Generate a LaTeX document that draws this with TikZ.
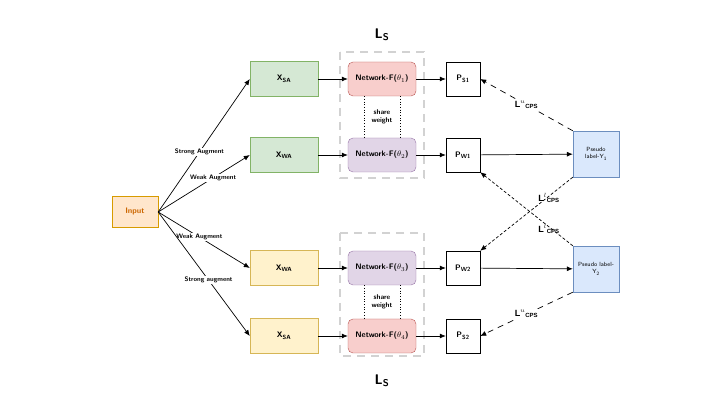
\documentclass[tikz,border=0pt]{standalone}
\usepackage{fontspec}
\setmainfont{Liberation Sans}
\usetikzlibrary{arrows.meta}
\begin{document}
\begin{tikzpicture}[x=1pt,y=-1pt,font=\sffamily\bfseries\fontsize{8}{9}\selectfont,
 box/.style={draw=#1!60!black,minimum width=68pt,minimum height=35pt,inner sep=1pt},
 net/.style={draw,rounded corners=5pt,minimum width=68pt,minimum height=34pt,inner sep=1pt},
 pb/.style={draw,fill=white,minimum width=34pt,minimum height=34pt,inner sep=1pt},
 ar/.style={-{Latex[length=6pt,width=5pt]},line width=0.7pt},
 lab/.style={font=\sffamily\bfseries\fontsize{6.5}{7}\selectfont,fill=white,inner sep=1pt},
 cps/.style={font=\bfseries\fontsize{9}{10}\selectfont\rmfamily,inner sep=1pt}]
\useasboundingbox (0,0) rectangle (720,419);
\definecolor{gfill}{HTML}{D5E8D4}\definecolor{gdraw}{HTML}{82B366}
\definecolor{yfill}{HTML}{FFF2CC}\definecolor{ydraw}{HTML}{D6B656}
\definecolor{ofill}{HTML}{FFE6CC}\definecolor{odraw}{HTML}{D79B00}
\definecolor{rfill}{HTML}{F8CECC}\definecolor{rdraw}{HTML}{B85450}
\definecolor{pfill}{HTML}{E1D5E7}\definecolor{pdraw}{HTML}{9673A6}
\definecolor{bfill}{HTML}{DAE8FC}\definecolor{bdraw}{HTML}{6C8EBF}
\draw[gray!35,dash pattern=on 8pt off 6pt,line width=2.5pt] (340,52) rectangle (424,178);
\draw[gray!35,dash pattern=on 8pt off 6pt,line width=2.5pt] (340,233) rectangle (424,356);
\node[font=\sffamily\bfseries\fontsize{14}{14}\selectfont] (ls1) at (382,35) {L\textsubscript{S}};
\node[font=\sffamily\bfseries\fontsize{14}{14}\selectfont] (ls2) at (382,381) {L\textsubscript{S}};
\node[draw=odraw,fill=ofill,text=orange!80!black,minimum width=46pt,minimum height=31pt] (in) at (135,212) {Input};
\node[draw=gdraw,fill=gfill,minimum width=68pt,minimum height=35pt] (xsa1) at (284,79) {X\textsubscript{SA}};
\node[draw=gdraw,fill=gfill,minimum width=68pt,minimum height=35pt] (xwa1) at (284,155) {X\textsubscript{WA}};
\node[draw=ydraw,fill=yfill,minimum width=68pt,minimum height=35pt] (xwa2) at (284,268) {X\textsubscript{WA}};
\node[draw=ydraw,fill=yfill,minimum width=68pt,minimum height=35pt] (xsa2) at (284,336) {X\textsubscript{SA}};
\node[net,draw=rdraw,fill=rfill] (n1) at (382,79) {Network-F($\theta_1$)};
\node[net,draw=pdraw,fill=pfill] (n2) at (382,155) {Network-F($\theta_2$)};
\node[net,draw=pdraw,fill=pfill] (n3) at (382,268) {Network-F($\theta_3$)};
\node[net,draw=rdraw,fill=rfill] (n4) at (382,336) {Network-F($\theta_4$)};
\node[pb] (ps1) at (463,79) {P\textsubscript{S1}};
\node[pb] (pw1) at (463,155) {P\textsubscript{W1}};
\node[pb] (pw2) at (463,268) {P\textsubscript{W2}};
\node[pb] (ps2) at (463,336) {P\textsubscript{S2}};
\node[draw=bdraw,fill=bfill,minimum width=46pt,minimum height=46pt,align=center,font=\sffamily\fontsize{6}{7}\selectfont] (y1) at (596,154) {Pseudo\\label-Y\textsubscript{1}};
\node[draw=bdraw,fill=bfill,minimum width=46pt,minimum height=46pt,align=center,font=\sffamily\fontsize{6}{7}\selectfont] (y2) at (596,269) {Pseudo label-\\Y\textsubscript{2}};
\foreach \a/\b in {xsa1/n1,xwa1/n2,xwa2/n3,xsa2/n4,n1/ps1,n2/pw1,n3/pw2,n4/ps2,pw1/y1,pw2/y2} \draw[ar] (\a) -- (\b);
\draw[ar] (in.east) -- node[lab,pos=0.45]{Strong Augment} (xsa1.west);
\draw[ar] (in.east) -- node[lab,pos=0.6]{Weak Augment} (xwa1.west);
\draw[ar] (in.east) -- node[lab,pos=0.45]{Weak Augment} (xwa2.west);
\draw[ar] (in.east) -- node[lab,pos=0.55]{Strong augment} (xsa2.west);
\draw[dotted,line width=0.7pt] ([xshift=-18pt]n1.south) -- ([xshift=-18pt]n2.north);
\draw[dotted,line width=0.7pt] ([xshift=18pt]n1.south) -- ([xshift=18pt]n2.north);
\draw[dotted,line width=0.7pt] ([xshift=-18pt]n3.south) -- ([xshift=-18pt]n4.north);
\draw[dotted,line width=0.7pt] ([xshift=18pt]n3.south) -- ([xshift=18pt]n4.north);
\node[font=\sffamily\bfseries\fontsize{7}{8}\selectfont,align=center,fill=white,inner sep=0.5pt] (sw1) at (382,117) {share\\weight};
\node[font=\sffamily\bfseries\fontsize{7}{8}\selectfont,align=center,fill=white,inner sep=0.5pt] (sw2) at (382,302) {share\\weight};
\draw[ar,dash pattern=on 6pt off 5pt] (y1.north west) -- node[cps,fill=white,pos=0.5]{L$^{u}$\textsubscript{CPS}} (ps1.east);
\draw[ar,dash pattern=on 6pt off 5pt] (y2.south west) -- node[cps,fill=white,pos=0.5]{L$^{u}$\textsubscript{CPS}} (ps2.east);
\draw[ar,dash pattern=on 3pt off 2pt] (y1.south west) -- (pw2.north east);
\draw[ar,dash pattern=on 3pt off 2pt] (y2.north west) -- (pw1.south east);
\node[cps] (l1) at (549,198) {L$^{l}$\textsubscript{CPS}};
\node[cps] (l2) at (549,229) {L$^{l}$\textsubscript{CPS}};
\end{tikzpicture}
\end{document}
